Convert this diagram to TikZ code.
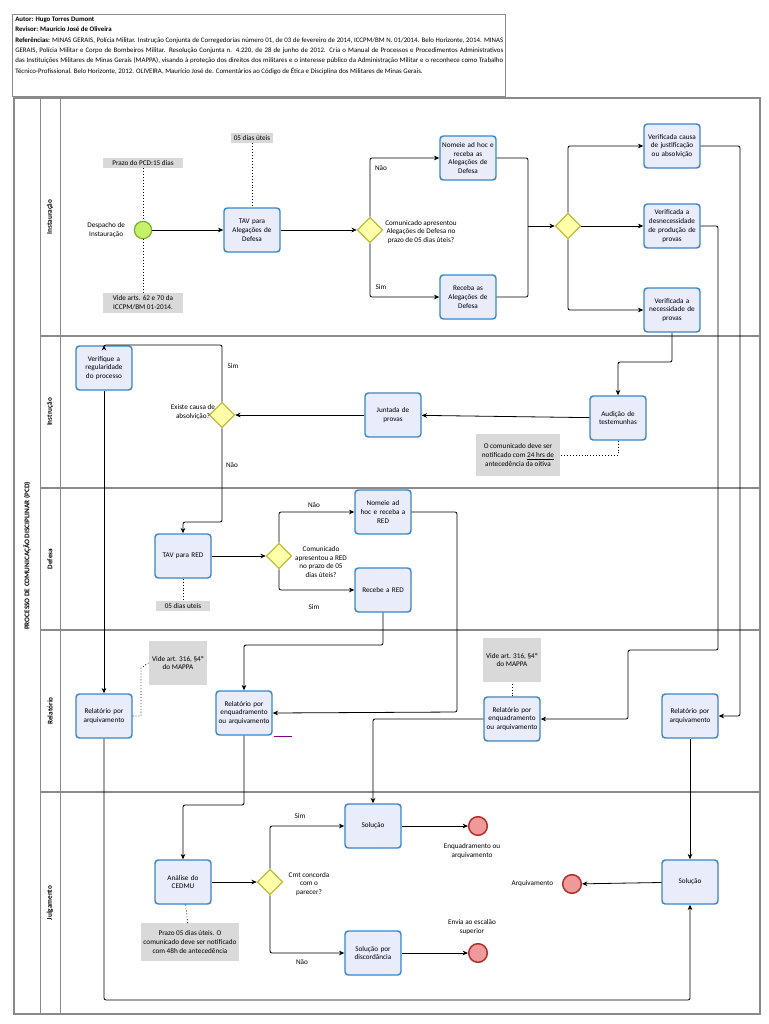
\documentclass[tikz,border=0pt]{standalone}
\usepackage{fontspec}
\setmainfont{Carlito}
\usetikzlibrary{arrows.meta,shapes.geometric}
\definecolor{TaskFill}{HTML}{E8ECFB}
\definecolor{TaskLine}{HTML}{3A86C6}
\definecolor{GwFill}{HTML}{FFFFAA}
\definecolor{GwLine}{HTML}{BDBD3A}
\definecolor{NoteFill}{HTML}{D9D9D9}
\definecolor{EndFill}{HTML}{EE9A9A}
\definecolor{EndLine}{HTML}{B22A2A}
\definecolor{StartFill}{HTML}{C6F26A}
\definecolor{StartLine}{HTML}{7AAE2A}
\definecolor{LaneLine}{HTML}{8A8A8A}
\tikzset{
  >={Stealth[length=4pt,width=3.5pt]},
  txt/.style={font=\fontsize{5.4}{6.6}\selectfont, align=center},
  task/.style={txt, rectangle, rounded corners=2.5pt, draw=TaskLine, line width=1.1pt,
    fill=TaskFill, minimum width=42pt, minimum height=33pt, text width=40pt, inner sep=1pt},
  gw/.style={diamond, draw=GwLine, fill=GwFill, line width=0.9pt, minimum size=19pt, inner sep=0pt},
  note/.style={txt, rectangle, fill=NoteFill, inner sep=2pt},
  startev/.style={circle, draw=StartLine, fill=StartFill, line width=0.9pt, minimum size=13pt, inner sep=0pt},
  endev/.style={circle, draw=EndLine, fill=EndFill, line width=1.1pt, minimum size=14pt, inner sep=0pt},
  flow/.style={->, line width=0.6pt, rounded corners=1.5pt},
  assoc/.style={line width=0.6pt, dash pattern=on 0.6pt off 1.6pt},
  lane/.style={font=\fontsize{5.4}{6}\selectfont\bfseries, rotate=90}
}
\begin{document}
\begin{tikzpicture}[x=0.75pt,y=-0.75pt]
\useasboundingbox (0,0) rectangle (768,1024);
% cabecalho
\draw[LaneLine, line width=0.6pt] (12,14) rectangle (505,96);
\node[anchor=north west, inner sep=0pt, text width=366pt, align=justify,
  font=\fontsize{5.15}{7.7}\selectfont] (header) at (15,17) {%
\textbf{Autor: Hugo Torres Dumont}\\
\textbf{Revisor: Maurício José de Oliveira}\\
\textbf{Referências:} MINAS GERAIS, Polícia Militar. Instrução Conjunta de Corregedorias número 01, de 03 de fevereiro de 2014, ICCPM/BM N. 01/2014. Belo Horizonte, 2014. MINAS GERAIS, Polícia Militar e Corpo de Bombeiros Militar. Resolução Conjunta n. 4.220, de 28 de junho de 2012. Cria o Manual de Processos e Procedimentos Administrativos das Instituições Militares de Minas Gerais (MAPPA), visando à proteção dos direitos dos militares e o interesse público da Administração Militar e o reconhece como Trabalho Técnico-Profissional. Belo Horizonte, 2012. OLIVEIRA, Maurício José de. Comentários ao Código de Ética e Disciplina dos Militares de Minas Gerais.};
% piscina e raias
\draw[LaneLine, line width=0.8pt] (14,98) rectangle (760,1014);
\draw[LaneLine, line width=0.6pt] (40,98) -- (40,1014) (60,98) -- (60,1014);
\foreach \y in {336,488,630,792}
  \draw[LaneLine, line width=0.8pt] (40,\y) -- (760,\y);
\node[lane] (pool) at (27,556) {PROCESSO DE COMUNICAÇÃO DISCIPLINAR (PCD)};
\node[lane] (l1) at (50,217) {Instauração};
\node[lane] (l2) at (50,412) {Instrução};
\node[lane] (l3) at (50,559) {Defesa};
\node[lane] (l4) at (50,711) {Relatório};
\node[lane] (l5) at (50,903) {Julgamento};

% Instauracao
\node[startev] (start) at (143,230) {};
\node[txt, left=3pt] (startlbl) at (start.west) {Despacho de\\Instauração};
\node[note, minimum width=60pt] (nprazo) at (143,163) {Prazo do PCD:15 dias};
\node[note, minimum width=60pt] (nvide) at (143,303) {Vide arts. 62 e 70 da\\ICCPM/BM 01-2014.};
\node[task] (tav) at (252,230) {TAV para\\Alegações de\\Defesa};
\node[note] (n05) at (252,138) {05 dias úteis};
\node[gw] (d1) at (370,230) {};
\node[txt] (d1lbl) at (421,232) {Comunicado apresentou\\Alegações de Defesa no\\prazo de 05 dias úteis?};
\node[task] (nomeie) at (468,158) {Nomeie ad hoc e\\receba as\\Alegações de\\Defesa};
\node[task] (receba) at (468,297) {Receba as\\Alegações de\\Defesa};
\node[txt] (nao1) at (381,168) {Não};
\node[txt] (sim1) at (381,287) {Sim};
\coordinate (j1) at (528,226);
\node[gw] (d2) at (568,226) {};
\node[task] (vcausa) at (672,146) {Verificada causa\\de justificação\\ou absolvição};
\node[task] (vdesn) at (672,226) {Verificada a\\desnecessidade\\de produção de\\provas};
\node[task] (vnec) at (672,310) {Verificada a\\necessidade de\\provas};

% Instrucao
\node[task] (verif) at (104,368) {Verifique a\\regularidade\\do processo};
\node[gw] (d3) at (222,415) {};
\node[txt] (d3lbl) at (193,412) {Existe causa de\\absolvição?};
\node[task] (junt) at (393,415) {Juntada de\\provas};
\node[task] (aud) at (618,418) {Audição de\\testemunhas};
\node[note, minimum width=63pt, minimum height=32pt] (n24) at (518,455) {O comunicado deve ser\\notificado com \underline{24 hrs de}\\antecedência da oitiva};
\node[txt] (sim3) at (233,366) {Sim};
\node[txt] (nao3) at (232,465) {Não};

% Defesa
\node[task] (tavred) at (183,556) {TAV para RED};
\node[note, minimum width=40pt] (n05b) at (183,606) {05 dias uteis};
\node[gw] (d4) at (279,556) {};
\node[txt] (d4lbl) at (321,562) {Comunicado\\apresentou a RED\\no prazo de 05\\dias úteis?};
\node[task] (nomred) at (383,512) {Nomeie ad\\hoc e receba a\\RED};
\node[task] (recred) at (383,590) {Recebe a RED};
\node[txt] (nao4) at (314,505) {Não};
\node[txt] (sim4) at (314,607) {Sim};

% Relatorio
\node[task] (rel1) at (104,716) {Relatório por\\arquivamento};
\node[note, minimum width=44pt, minimum height=33pt] (nmappa1) at (178,663) {Vide art. 316, §4º\\do MAPPA};
\node[task] (rel2) at (244,713) {Relatório por\\enquadramento\\ou arquivamento};
\node[task] (rel3) at (512,719) {Relatório por\\enquadramento\\ou arquivamento};
\node[note, minimum width=44pt, minimum height=33pt] (nmappa2) at (512,660) {Vide art. 316, §4º\\do MAPPA};
\node[task] (relarq) at (690,716) {Relatório por\\arquivamento};

% Julgamento
\node[task] (anal) at (183,882) {Análise do\\CEDMU};
\node[note, minimum width=72pt, minimum height=28pt] (n48) at (190,942) {Prazo 05 dias úteis. O\\comunicado deve ser notificado\\com 48h de antecedência};
\node[gw] (d5) at (270,882) {};
\node[txt] (d5lbl) at (309,884) {Cmt concorda\\com o\\parecer?};
\node[task] (sol) at (373,826) {Solução};
\node[task] (soldisc) at (373,953) {Solução por\\discordância};
\node[txt] (sim5) at (300,816) {Sim};
\node[txt] (nao5) at (302,962) {Não};
\node[endev] (end1) at (478,826) {};
\node[txt] (end1lbl) at (472,851) {Enquadramento ou\\arquivamento};
\node[endev] (end2) at (478,953) {};
\node[txt] (end2lbl) at (472,927) {Envia ao escalão\\superior};
\node[task] (sol2) at (690,882) {Solução};
\node[endev] (end3) at (572,884) {};
\node[txt, left=3pt] (end3lbl) at (end3.west) {Arquivamento};

% associacoes
\draw[assoc] (nprazo) -- (start);
\draw[assoc] (nvide) -- (start);
\draw[assoc] (n05) -- (tav);
\draw[assoc] (aud.south) |- (n24.east);
\draw[assoc] (tavred) -- (n05b);
\draw[assoc] (rel1.east) -| (141,668) -- (nmappa1.west);
\draw[assoc] (rel3) -- (nmappa2);
\draw[assoc] (anal) -- (n48);

% fluxos
\draw[flow] (start) -- (tav);
\draw[flow] (tav) -- (d1);
\draw[flow] (d1.north) |- (nomeie.west);
\draw[flow] (d1.south) |- (receba.west);
\draw[line width=0.6pt, rounded corners=1.5pt] (nomeie.east) -| (j1);
\draw[line width=0.6pt, rounded corners=1.5pt] (receba.east) -| (j1);
\draw[flow] (j1) -- (d2);
\draw[flow] (d2.north) |- (vcausa.west);
\draw[flow] (d2) -- (vdesn);
\draw[flow] (d2.south) |- (vnec.west);
\draw[flow] (vcausa.east) -| (740,716) -- (relarq.east);
\draw[flow] (vdesn.east) -| (718,650) -| (628,719) -- (rel3.east);
\draw[flow] (vnec.south) |- (618,362) -- (aud.north);
\draw[flow] (aud) -- (junt);
\draw[flow] (junt) -- (d3);
\draw[flow] (d3.north) |- (104,345) -- (verif.north);
\draw[flow] (d3.south) |- (183,522) -- (tavred.north);
\draw[flow] (tavred) -- (d4);
\draw[flow] (d4.north) |- (nomred.west);
\draw[flow] (d4.south) |- (recred.west);
\draw[flow] (nomred.east) -| (457,712) -- (rel2.east);
\draw[flow] (recred.south) |- (244,645) -- (rel2.north);
\draw[flow] (verif) -- (rel1);
\draw[flow] (rel1.south) |- (690,1000) -- (sol2.south);
\draw[flow] (rel2.south) |- (183,805) -- (anal.north);
\draw[flow] (rel3.west) -| (sol.north);
\draw[flow] (relarq) -- (sol2);
\draw[flow] (anal) -- (d5);
\draw[flow] (d5.north) |- (sol.west);
\draw[flow] (d5.south) |- (soldisc.west);
\draw[flow] (sol) -- (end1);
\draw[flow] (soldisc) -- (end2);
\draw[flow] (sol2) -- (end3);
\draw[violet, line width=0.7pt] (274,736) -- (292,736);
\end{tikzpicture}
\end{document}
